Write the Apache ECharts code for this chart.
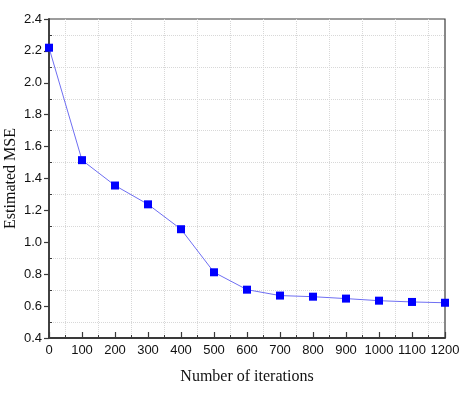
<!DOCTYPE html>
<html>
<head>
<meta charset="utf-8">
<script src="https://cdn.jsdelivr.net/npm/echarts@6/dist/echarts.min.js"></script>
<style>html,body{margin:0;padding:0;background:#fff;}#c{width:474px;height:396px;}</style>
</head>
<body>
<div id="c"></div>
<script>
const iterations = [0, 100, 200, 300, 400, 500, 600, 700, 800, 900, 1000, 1100, 1200];
const mseValues = [2.22, 1.515, 1.356, 1.238, 1.082, 0.812, 0.703, 0.666, 0.659, 0.647, 0.634, 0.626, 0.621];
const xTitle = 'Number of iterations';
const yTitle = 'Estimated MSE';

const chart = echarts.init(document.getElementById('c'));
const axisColor = '#3a3a3a';
const labelStyle = { color: '#111', fontFamily: 'Liberation Sans, Arial, sans-serif', fontSize: 13 };
const gridLine = { show: true, lineStyle: { color: '#d8d8d8', type: [1, 1], width: 1 } };

chart.setOption({
  animation: false,
  grid: { left: 49, right: 29, top: 19, bottom: 58, show: true, borderColor: axisColor, borderWidth: 1.2, outerBoundsMode: 'none', containLabel: false },
  xAxis: [{
    type: 'value', min: 0, max: 1200, interval: 100,
    name: xTitle, nameLocation: 'middle', nameGap: 31, nameMoveOverlap: false,
    nameTextStyle: { fontFamily: 'Liberation Serif, Times New Roman, serif', fontSize: 16, color: '#111' },
    axisLine: { show: true, lineStyle: { color: axisColor, width: 1.8 } },
    axisTick: { show: true, inside: true, length: 6, lineStyle: { color: axisColor, width: 1.2 } },
    minorTick: { show: true, splitNumber: 2, length: 3, lineStyle: { color: axisColor, width: 1 } },
    axisLabel: Object.assign({ margin: 6, hideOverlap: false, showMaxLabel: true, showMinLabel: true, formatter: v => String(v) }, labelStyle),
    splitLine: { show: false },
    minorSplitLine: gridLine
  }],
  yAxis: [{
    type: 'value', min: 0.4, max: 2.4, interval: 0.2,
    name: yTitle, nameLocation: 'middle', nameGap: 30, nameMoveOverlap: false,
    nameTextStyle: { fontFamily: 'Liberation Serif, Times New Roman, serif', fontSize: 16, color: '#111' },
    axisLine: { show: true, lineStyle: { color: axisColor, width: 1.8 } },
    axisTick: { show: true, inside: false, length: 5, lineStyle: { color: axisColor, width: 1.2 } },
    minorTick: { show: false, splitNumber: 2 },
    axisLabel: Object.assign({ margin: 7, formatter: v => v.toFixed(1) }, labelStyle),
    splitLine: { show: false },
    minorSplitLine: gridLine
  }, {
    type: 'value', min: 0.4, max: 2.4, interval: 0.2, position: 'left', offset: 0,
    axisLine: { show: false },
    axisTick: { show: false, inside: true },
    minorTick: { show: true, splitNumber: 2, length: 3, lineStyle: { color: axisColor, width: 1 } },
    axisLabel: { show: false },
    splitLine: { show: false }
  }],
  series: [{
    type: 'line',
    data: iterations.map((x, i) => [x, mseValues[i]]),
    xAxisIndex: 0, yAxisIndex: 0,
    symbol: 'rect', symbolSize: 8,
    clip: false,
    z: 10,
    lineStyle: { color: '#6e6ef2', width: 1 },
    itemStyle: { color: '#0000ff' }
  }]
});
</script>
</body>
</html>
